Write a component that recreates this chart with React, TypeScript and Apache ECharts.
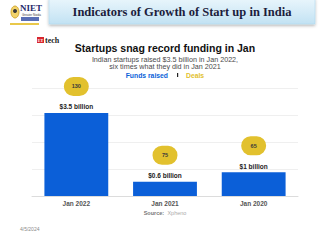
import React, { useEffect, useRef } from "react";
import * as echarts from "echarts";

const categories = ["Jan 2022", "Jan 2021", "Jan 2020"];
const fundsRaised = [3.5, 0.6, 1]; // USD billion
const deals = [130, 75, 65];

const slideTitle = "Indicators of Growth of Start up in India";
const chartTitle = "Startups snag record funding in Jan";
const chartSubtitle = ["Indian startups raised $3.5 billion in Jan 2022,", "six times what they did in Jan 2021"];
const slideDate = "4/5/2024";

const BLUE = "#0B5FD8";
const GOLD = "#E2C12E";
const SANS = "'Liberation Sans', Arial, sans-serif";
const SERIF = "'Liberation Serif', 'Times New Roman', serif";

export default function App() {
  const ref = useRef<HTMLDivElement>(null);

  useEffect(() => {
    if (!ref.current) return;
    const chart = echarts.init(ref.current, null, { renderer: "svg" });

    const option: echarts.EChartsOption = {
      animation: false,
      backgroundColor: "#ffffff",
      grid: { left: 32, right: 22, top: 88, bottom: 44, containLabel: false },
      xAxis: {
        type: "category",
        data: categories,
        axisLine: { show: true, lineStyle: { color: "#dcdcdc", width: 1 } },
        axisTick: { show: false },
        axisLabel: { color: "#555", fontSize: 6.5, fontFamily: SANS, fontWeight: "bold", margin: 4 },
      },
      yAxis: [
        {
          type: "value",
          min: 0,
          max: 4.55,
          show: false,
          splitLine: { show: false },
        },
        {
          // decorative background rules
          type: "value",
          min: 0,
          max: 4,
          interval: 1,
          axisLine: { show: false },
          axisTick: { show: false },
          axisLabel: { show: false },
          splitLine: { show: true, lineStyle: { color: "#efefef", width: 1 } },
        },
      ],
      series: [
        {
          type: "bar",
          yAxisIndex: 0,
          data: fundsRaised,
          barWidth: "72%",
          itemStyle: { color: BLUE },
          label: {
            show: true,
            position: "top",
            distance: 2,
            formatter: (p: any) => `{d|${deals[p.dataIndex]}}\n{g|}\n{v|$${p.value} billion}`,
            rich: {
              d: {
                width: 25,
                height: 19,
                lineHeight: 19,
                align: "center",
                backgroundColor: GOLD,
                borderRadius: 10,
                color: "#3a3a3a",
                fontSize: 5.5,
                fontWeight: "bold",
                fontFamily: SANS,
              },
              g: { height: 7, lineHeight: 7, fontSize: 1 },
              v: {
                lineHeight: 8,
                fontSize: 6.5,
                fontWeight: "bold",
                color: "#222",
                fontFamily: SANS,
                align: "center",
              },
            },
          },
        },
      ],
      graphic: [
        // slide header box
        {
          type: "rect",
          shape: { x: 49, y: -2, width: 266, height: 26 },
          style: {
            fill: new echarts.graphic.LinearGradient(0, 0, 0, 1, [
              { offset: 0, color: "#EAF6FC" },
              { offset: 1, color: "#C2E2F3" },
            ]),
            stroke: "#A9D4EC",
            lineWidth: 0.5,
            shadowBlur: 3,
            shadowOffsetY: 1.5,
            shadowColor: "rgba(0,0,0,0.3)",
          },
        },
        {
          type: "text",
          x: 182,
          y: 12,
          style: {
            text: slideTitle,
            fill: "#1C1C3C",
            font: `bold 12.5px ${SERIF}`,
            align: "center",
            verticalAlign: "middle",
          },
        },
        // institute logo
        {
          type: "group",
          x: 10,
          y: 3,
          children: [
            { type: "ellipse", shape: { cx: 5, cy: 9, rx: 4, ry: 6 }, style: { fill: "#F2D36B", stroke: "#C99A1A", lineWidth: 0.8 } },
            { type: "circle", shape: { cx: 5, cy: 8, r: 2 }, style: { fill: "#3A3A3A" } },
            { type: "text", x: 10, y: 0, style: { text: "NIET", font: `bold 9px ${SERIF}`, fill: "#1F2A6B" } },
            { type: "text", x: 12, y: 10, style: { text: "Greater Noida", font: `3px ${SANS}`, fill: "#444" } },
            { type: "rect", shape: { x: 11, y: 14, width: 18, height: 4 }, style: { fill: "#5A6FB5" } },
            { type: "rect", shape: { x: 0, y: 20, width: 29, height: 2 }, style: { fill: "#E9C84A" } },
          ],
        },
        // ET tech badge
        {
          type: "rect",
          shape: { x: 37, y: 37, width: 7, height: 6 },
          style: { fill: "#D8262E" },
        },
        {
          type: "text",
          x: 40.5,
          y: 40,
          style: { text: "ET", fill: "#fff", font: `bold 4px ${SERIF}`, align: "center", verticalAlign: "middle" },
        },
        {
          type: "text",
          x: 45,
          y: 40,
          style: { text: "tech", fill: "#222", font: `bold 8px ${SERIF}`, verticalAlign: "middle" },
        },
        // chart heading
        {
          type: "text",
          x: 165,
          y: 48,
          style: {
            text: chartTitle,
            fill: "#111",
            font: `bold 10.5px ${SANS}`,
            align: "center",
            verticalAlign: "middle",
          },
        },
        {
          type: "text",
          x: 165,
          y: 59,
          style: {
            text: chartSubtitle[0],
            fill: "#4a4a4a",
            font: `7.2px ${SANS}`,
            align: "center",
            verticalAlign: "middle",
          },
        },
        {
          type: "text",
          x: 165,
          y: 66.5,
          style: {
            text: chartSubtitle[1],
            fill: "#4a4a4a",
            font: `7.2px ${SANS}`,
            align: "center",
            verticalAlign: "middle",
          },
        },
        // legend
        {
          type: "text",
          x: 168,
          y: 75,
          style: { text: "Funds raised", fill: BLUE, font: `bold 6.8px ${SANS}`, align: "right", verticalAlign: "middle" },
        },
        {
          type: "rect",
          shape: { x: 177, y: 73, width: 1.2, height: 4 },
          style: { fill: "#222" },
        },
        {
          type: "text",
          x: 186,
          y: 75,
          style: { text: "Deals", fill: GOLD, font: `bold 6.8px ${SANS}`, align: "left", verticalAlign: "middle" },
        },
        // source line
        {
          type: "text",
          x: 165,
          y: 213,
          style: {
            text: "{b|Source:} {l|Xpheno}",
            align: "center",
            verticalAlign: "middle",
            rich: {
              b: { fontSize: 5.5, fontWeight: "bold", fill: "#777", fontFamily: SANS },
              l: { fontSize: 5.5, fill: "#aaa", fontFamily: SANS },
            },
          },
        },
        // slide date
        {
          type: "text",
          x: 20,
          y: 229,
          style: { text: slideDate, fill: "#8a8a8a", font: `5px ${SANS}`, verticalAlign: "middle" },
        },
      ],
    };

    chart.setOption(option);
    return () => chart.dispose();
  }, []);

  return (
    <div
      ref={ref}
      style={{ position: "fixed", left: 0, top: 0, width: 320, height: 240, background: "#fff" }}
    />
  );
}
